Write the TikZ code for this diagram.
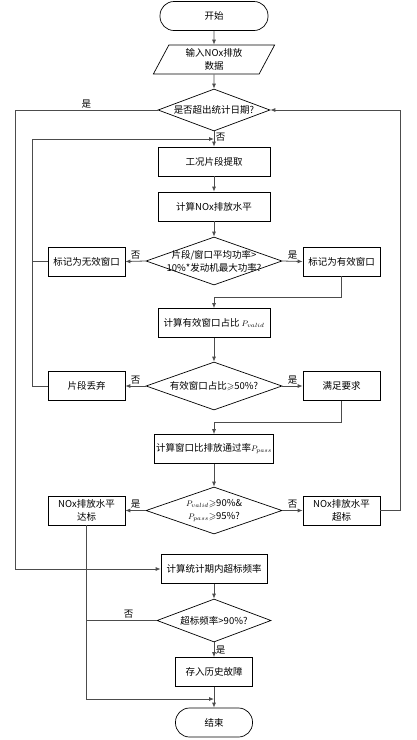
\documentclass[tikz,border=0pt]{standalone}
\usepackage{amssymb}
\usepackage{fontspec}
\setmainfont{Noto Sans CJK SC}
\usetikzlibrary{shapes.geometric,arrows.meta}
\tikzset{
  flowbox/.style={draw, line width=0.7pt, minimum height=29pt, inner sep=1pt, align=center},
  termbox/.style={flowbox, rounded corners=14pt},
  decbox/.style={draw, diamond, line width=0.7pt, inner sep=0pt},
  conn/.style={draw=black!70, line width=0.8pt},
  arr/.style={conn, -{Latex[length=5pt,width=4pt]}},
  lbl/.style={inner sep=1.5pt},
}
\begin{document}
\begin{tikzpicture}[x=1pt,y=-1pt,font=\fontsize{9.5}{13}\selectfont]
\useasboundingbox (0,0) rectangle (416,740);
% main column
\node[termbox, minimum width=108pt] (start) at (214,16) {开始};
\node[draw, trapezium, trapezium left angle=66, trapezium right angle=114, trapezium stretches,
  minimum width=122pt, minimum height=29pt, line width=0.7pt, inner sep=0pt, align=center] (input) at (214,59.5) {输入NOx排放\\数据};
\node[decbox, minimum width=112pt, minimum height=42pt, label={center:是否超出统计日期?}] (d1) at (214,110) {};
\node[flowbox, minimum width=112pt] (extract) at (214,161.5) {工况片段提取};
\node[flowbox, minimum width=112pt] (calcnox) at (214,206.5) {计算NOx排放水平};
\node[decbox, minimum width=136pt, minimum height=48pt, label={[align=center]center:片段/窗口平均功率>\\10\%*发动机最大功率?}] (d2) at (214,261) {};
\node[flowbox, minimum width=77pt] (invalid) at (86.5,261.5) {标记为无效窗口};
\node[flowbox, minimum width=77pt] (valid) at (341.5,261.5) {标记为有效窗口};
\node[flowbox, minimum width=112pt] (ratio) at (214,323) {计算有效窗口占比 {\footnotesize$P_{valid}$}};
\node[decbox, minimum width=136pt, minimum height=48pt, label={center:有效窗口占比$\geqslant$50\%?}] (d3) at (214,386) {};
\node[flowbox, minimum width=77pt] (discard) at (86.5,386) {片段丢弃};
\node[flowbox, minimum width=77pt] (meet) at (341.5,386) {满足要求};
\node[flowbox, minimum width=119pt] (passrate) at (214,449) {计算窗口比排放通过率{\footnotesize$P_{pass}$}};
\node[decbox, minimum width=136pt, minimum height=47pt, label={[align=center]center:{\footnotesize$P_{valid}$}$\geqslant$90\%\&\\{\footnotesize$P_{pass}$}$\geqslant$95\%?}] (d4) at (214,510.5) {};
\node[flowbox, minimum width=77pt] (reach) at (86.5,510.5) {NOx排放水平\\达标};
\node[flowbox, minimum width=77pt] (exceed) at (341.5,510.5) {NOx排放水平\\超标};
\node[flowbox, minimum width=106pt] (freq) at (214,569) {计算统计期内超标频率};
\node[decbox, minimum width=114pt, minimum height=43pt, label={center:超标频率>90\%?}] (d5) at (214,620.5) {};
\node[flowbox, minimum width=77pt] (store) at (214,672) {存入历史故障};
\node[termbox, minimum width=77pt] (stop) at (214,722.5) {结束};

% corner points
\coordinate (leftouter) at (15,110);
\coordinate (leftbottom) at (15,569);
\coordinate (loopx) at (32,139);
\coordinate (loopin) at (214,139);
\coordinate (rightouter) at (400,110);
\coordinate (joinA) at (341.5,297);
\coordinate (joinB) at (341.5,422);
\coordinate (joinC) at (86.5,620.5);
\coordinate (joinD) at (214,699);

\draw[arr] (start) -- (input);
\draw[arr] (input) -- (d1);
\draw[arr] (d1) -- node[lbl,right,pos=0.4]{否} (extract);
\draw[arr] (d1.west) -- node[lbl,above]{是} (leftouter) -- (leftbottom) -- (freq.west);
\draw[arr] (extract) -- (calcnox);
\draw[arr] (calcnox) -- (d2);
\draw[arr] (d2.west) -- node[lbl,above]{否} (invalid.east);
\draw[arr] (d2.east) -- node[lbl,above]{是} (valid.west);
\draw[arr] (valid.south) -- (joinA) -| (ratio.north);
\draw[conn] (invalid.west) -- (invalid.west -| loopx);
\draw[arr] (discard.west) -- (discard.west -| loopx) -- (loopx) -- (loopin);
\draw[arr] (ratio) -- (d3);
\draw[arr] (d3.west) -- node[lbl,above]{否} (discard.east);
\draw[arr] (d3.east) -- node[lbl,above]{是} (meet.west);
\draw[arr] (meet.south) -- (joinB) -| (passrate.north);
\draw[arr] (passrate) -- (d4);
\draw[arr] (d4.west) -- node[lbl,above]{是} (reach.east);
\draw[arr] (d4.east) -- node[lbl,above]{否} (exceed.west);
\draw[arr] (exceed.east) -| (rightouter) -- (d1.east);
\draw[arr] (reach.south) |- (joinD);
\draw[arr] (freq) -- (d5);
\draw[conn] (d5.west) -- node[lbl,above,pos=0.4]{否} (joinC);
\draw[arr] (d5) -- node[lbl,right]{是} (store);
\draw[arr] (store) -- (stop);
\end{tikzpicture}
\end{document}
